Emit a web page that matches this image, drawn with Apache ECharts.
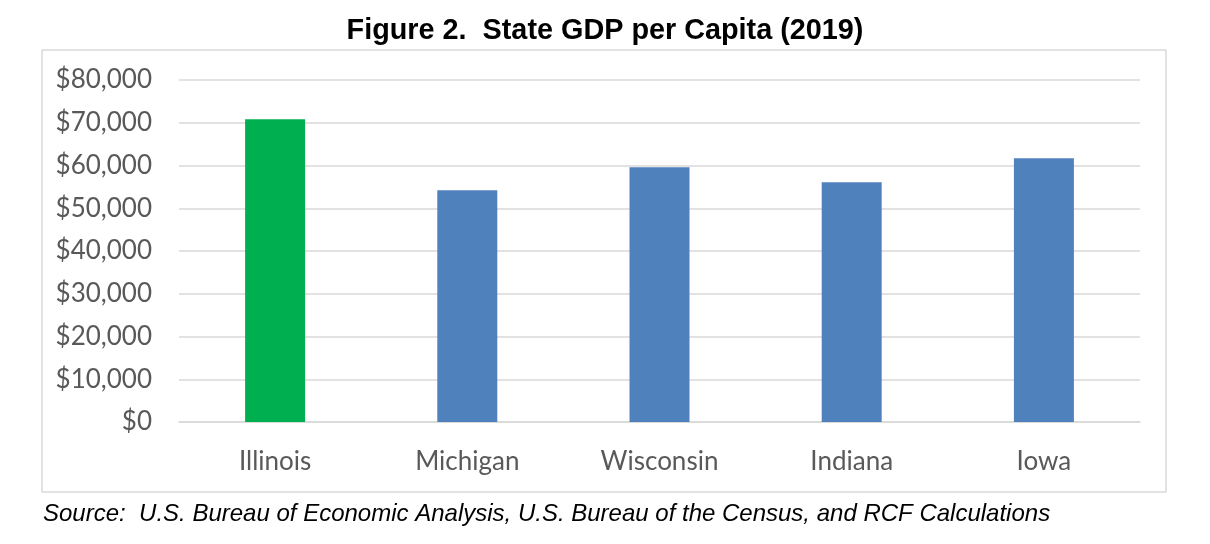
<!DOCTYPE html>
<html>
<head>
<meta charset="utf-8">
<title>State GDP per Capita (2019)</title>
<script src="https://cdn.jsdelivr.net/npm/echarts@6/dist/echarts.min.js"></script>
</head>
<body style="margin:0;background:#fff;">
<div id="main" style="width:1210px;height:544px;"></div>
<script>
    // data
    var states = ['Illinois', 'Michigan', 'Wisconsin', 'Indiana', 'Iowa'];
    var gdpPerCapita = [70800, 54200, 59600, 56100, 61700];
    var barColors = ['#00b050', '#4f81bd', '#4f81bd', '#4f81bd', '#4f81bd'];

    var labelFont = 'Lato, "Open Sans", sans-serif';

    var myChart = echarts.init(document.getElementById('main'));
    myChart.setOption({
        animation: false,
        title: {
            text: 'Figure 2.  State GDP per Capita (2019)',
            left: 'center',
            top: 12,
            textStyle: {
                fontFamily: 'Liberation Sans, Arial, sans-serif',
                fontWeight: 'bold',
                fontSize: 28.8,
                color: '#000'
            }
        },
        graphic: [{
            type: 'rect',
            shape: {x: 42, y: 50, width: 1124, height: 442},
            style: {fill: 'none', stroke: '#d9d9d9', lineWidth: 1.5},
            silent: true
        }, {
            type: 'text',
            left: 43,
            top: 502,
            style: {
                text: 'Source:  U.S. Bureau of Economic Analysis, U.S. Bureau of the Census, and RCF Calculations',
                font: 'italic 24px "Liberation Sans", Arial, sans-serif',
                fill: '#000'
            }
        }],
        grid: {
            left: 179,
            right: 70,
            top: 80,
            bottom: 122
        },
        xAxis: {
            type: 'category',
            data: states,
            axisLine: {lineStyle: {color: '#d9d9d9', width: 1.5}},
            axisTick: {show: false},
            axisLabel: {
                margin: 27,
                fontFamily: labelFont,
                fontSize: 26,
                color: '#595959'
            }
        },
        yAxis: {
            type: 'value',
            min: 0,
            max: 80000,
            interval: 10000,
            axisLine: {show: false},
            axisTick: {show: false},
            splitLine: {lineStyle: {color: '#d9d9d9', width: 1.5}},
            axisLabel: {
                margin: 27,
                fontFamily: labelFont,
                fontSize: 26,
                color: '#595959',
                formatter: function (v) {
                    return '$' + v.toLocaleString('en-US');
                }
            }
        },
        series: [{
            type: 'bar',
            barWidth: 60,
            data: gdpPerCapita.map(function (v, i) {
                return {value: v, itemStyle: {color: barColors[i]}};
            })
        }]
    });
</script>
</body>
</html>
